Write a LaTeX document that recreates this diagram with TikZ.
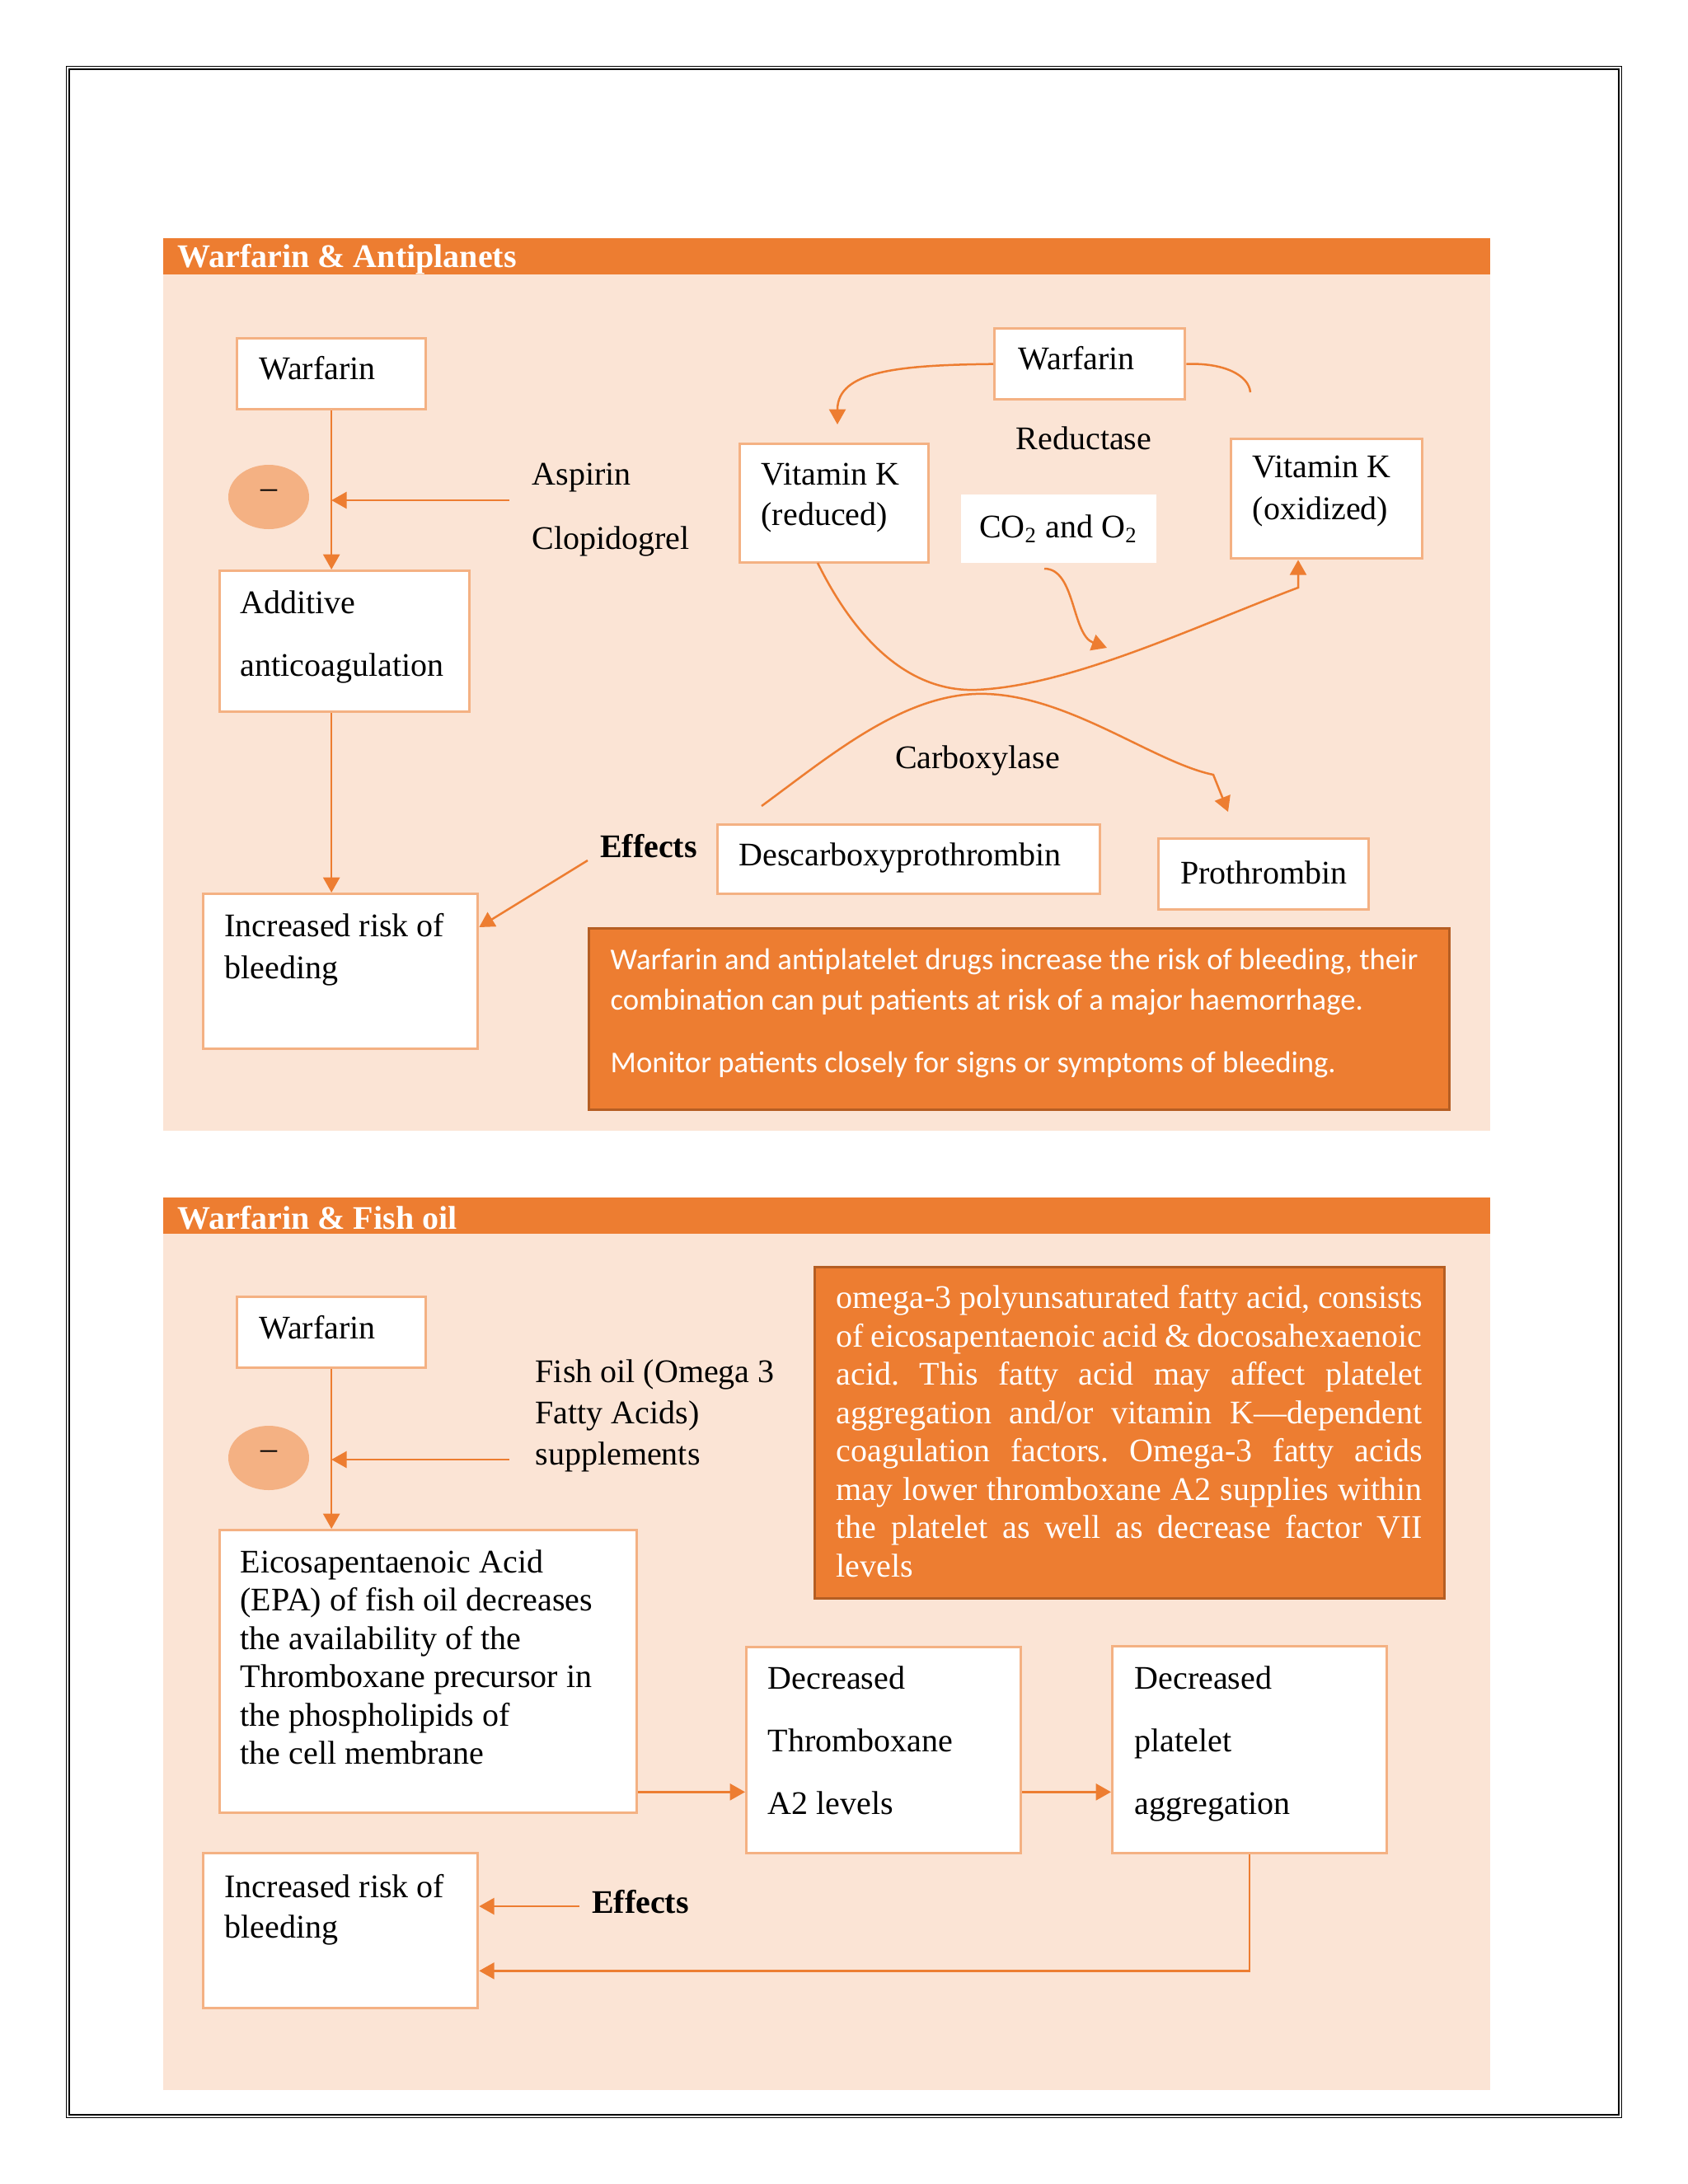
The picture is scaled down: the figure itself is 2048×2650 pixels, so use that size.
\documentclass[tikz,border=0pt]{standalone}
\usepackage{fontspec}
\setmainfont{Liberation Serif}
\newfontfamily\calloutfont{Carlito}
\usepackage{tikz}
\usetikzlibrary{arrows.meta, calc, shapes.geometric}

\definecolor{accent}{HTML}{ED7D31}
\definecolor{peach}{HTML}{FBE4D5}
\definecolor{apricot}{HTML}{F4B183}
\definecolor{rust}{HTML}{B55E23}

\begin{document}
\begin{tikzpicture}[x=0.3pt, y=-0.3pt,
    box/.style 2 args={draw=apricot, line width=1pt, fill=white, anchor=north west,
        inner sep=0pt, minimum width=#1*0.3pt, minimum height=#2*0.3pt,
        font=\fontsize{12}{15}\selectfont},
    note/.style 2 args={box={#1}{#2}, draw=rust, line width=0.75pt, fill=accent},
    txt/.style={anchor=north west, inner sep=0pt, align=left, font=\fontsize{12}{#1}\selectfont},
    txt/.default=15pt,
    lbl/.style={inner sep=0pt, font=\fontsize{12}{15}\selectfont},
    bold/.style={inner sep=0pt, font=\fontsize{12}{15}\selectfont\bfseries},
    title/.style={anchor=west, inner sep=0pt, text=white, font=\fontsize{12}{15}\selectfont\bfseries},
    minus/.style={ellipse, fill=apricot, minimum width=29.4pt, minimum height=23.4pt,
        inner sep=0pt, font=\fontsize{12}{15}\selectfont},
    link/.style={accent, line width=0.75pt},
    arr/.style={link, -{Triangle[length=5.5pt, width=6pt]}}]

    \useasboundingbox (0,0) rectangle (2048,2650);

    % page border
    \draw[line width=0.4pt] (80.5,80.5) rectangle (1967.5,2569.5);
    \draw[line width=0.6pt] (84,84) rectangle (1964,2566);

    % ---------- Warfarin & Antiplanets ----------
    \fill[peach] (198,333) rectangle (1808,1372);
    \fill[accent] (198,289) rectangle (1808,333);
    \node[title] (head1) at (215,315) {Warfarin \& Antiplanets};

    \node[box={229}{86}] (warf1) at (286,409) {};
    \node[txt] (warf1t) at (314,432) {Warfarin};
    \node[minus] (neg1) at (326,603) {\raisebox{2pt}{--}};
    \node[txt] (asp) at (645,561) {Aspirin};
    \node[txt] (clop) at (645,638) {Clopidogrel};
    \node[box={303}{171}] (add1) at (265,691) {};
    \node[txt=22.8pt] (add1t) at (291,716) {Additive\\anticoagulation};
    \node[box={333}{188}] (inc1) at (245,1083) {};
    \node[txt=15.3pt] (inc1t) at (272,1108) {Increased risk of\\bleeding};
    \node[bold] (eff1) at (787,1027) {Effects};

    % vitamin K cycle
    \node[box={231}{86}] (warf2) at (1205,397) {};
    \node[txt] (warf2t) at (1235,420) {Warfarin};
    \node[lbl] (redu) at (1315,532) {Reductase};
    \node[box={229}{144}] (vkred) at (896,537) {};
    \node[txt=14.7pt] (vkredt) at (923,561) {Vitamin K\\(reduced)};
    \node[box={232}{145}] (vkox) at (1492,531) {};
    \node[txt=15.3pt] (vkoxt) at (1519,552) {Vitamin K\\(oxidized)};
    \node[box={237}{83}, draw=none] (co2) at (1164,598) {CO\textsubscript{2} and O\textsubscript{2}};
    \node[lbl] (carb) at (1186,923) {Carboxylase};
    \node[box={464}{84}] (desc) at (869,999) {};
    \node[txt] (desct) at (896,1022) {Descarboxyprothrombin};
    \node[box={255}{86}] (proth) at (1404,1016) {\raisebox{1.5pt}{Prothrombin}};

    \node[note={1044}{220}] (warn) at (713,1125) {};
    \node[txt, text=white, font=\calloutfont\fontsize{11}{14.7}\selectfont] (warnt) at (740,1150)
        {Warfarin and antiplatelet drugs increase the risk of bleeding, their\\
         combination can put patients at risk of a major haemorrhage.\\[8.1pt]
         Monitor patients closely for signs or symptoms of bleeding.};

    \draw[arr] (warf1.south) -- (warf1.south |- add1.north);
    \coordinate (aspin) at (618,607);
    \draw[arr] (aspin) -- (aspin -| warf1.south);
    \draw[arr] (warf1.south |- add1.south) -- (warf1.south |- inc1.north);
    \coordinate (eff1out) at (713,1044);
    \draw[arr] (eff1out) -- ($(inc1.north east)+(0,42)$);

    \coordinate (vkredin) at (1016,515);
    \draw[arr] (warf2.west) .. controls (1090,443) and (1016,450) .. (vkredin);
    \coordinate (vkoxend) at (1517,476);
    \draw[link] (warf2.east) .. controls (1485,440) and (1515,455) .. (vkoxend);
    \coordinate (redout) at (992,683);
    \coordinate (oxin) at (1575,713);
    \draw[arr] (redout) .. controls (1040,780) and (1105,840) .. (1185,837)
        .. controls (1300,832) and (1450,760) .. (oxin) -- (oxin |- vkox.south);
    \coordinate (co2out) at (1267,690);
    \coordinate (co2in) at (1343,786);
    \draw[arr] (co2out) .. controls (1305,690) and (1300,770) .. (co2in);
    \coordinate (descout) at (924,978);
    \coordinate (prothin) at (1490,985);
    \draw[arr] (descout) .. controls (1010,915) and (1100,838) .. (1198,842)
        .. controls (1300,846) and (1400,925) .. (1472,940) -- (prothin);

    % ---------- Warfarin & Fish oil ----------
    \fill[peach] (198,1497) rectangle (1808,2536);
    \fill[accent] (198,1453) rectangle (1808,1497);
    \node[title] (head2) at (215,1478) {Warfarin \& Fish oil};

    \node[box={229}{86}] (warf3) at (286,1572) {};
    \node[txt] (warf3t) at (314,1596) {Warfarin};
    \node[minus] (neg2) at (326,1769) {\raisebox{2pt}{--}};
    \node[txt=15pt] (fish) at (649,1649) {Fish oil (Omega 3\\Fatty Acids)\\supplements};
    \node[box={506}{343}] (epa) at (265,1855) {};
    \node[txt=13.95pt] (epat) at (291,1880) {Eicosapentaenoic Acid\\(EPA) of fish oil decreases\\the availability of the\\Thromboxane precursor in\\the phospholipids of\\the cell membrane};
    \node[box={333}{250}] (thr) at (904,1997) {};
    \node[txt=22.8pt] (thrt) at (931,2021) {Decreased\\Thromboxane\\A2 levels};
    \node[box={333}{251}] (plt) at (1348,1996) {};
    \node[txt=22.8pt] (pltt) at (1376,2021) {Decreased\\platelet\\aggregation};
    \node[box={333}{188}] (inc2) at (245,2247) {};
    \node[txt=14.7pt] (inc2t) at (272,2274) {Increased risk of\\bleeding};
    \node[bold] (eff2) at (777,2308) {Effects};

    \node[note={764}{402}] (omega) at (987,1536) {};
    \node[txt=13.95pt, text=white, text width=213.3pt, align=justify] (omegat) at (1014,1559)
        {\frenchspacing\tolerance=9999 omega-3 polyunsaturated fatty acid, consists\linebreak
         of eicosapentaenoic acid \& docosahexaenoic\linebreak
         acid. This fatty acid may affect platelet\linebreak
         aggregation and/or vitamin K—dependent\linebreak
         coagulation factors. Omega-3 fatty acids\linebreak
         may lower thromboxane A2 supplies within\linebreak
         the platelet as well as decrease factor VII\linebreak
         levels};

    \draw[arr] (warf3.south) -- (warf3.south |- epa.north);
    \coordinate (fishin) at (618,1771);
    \draw[arr] (fishin) -- (fishin -| warf3.south);
    \coordinate (thrin) at ($(thr.south west)+(0,-76)$);
    \draw[arr] (thrin -| epa.east) -- (thrin);
    \coordinate (pltin) at ($(plt.south west)+(0,-76)$);
    \draw[arr] (pltin -| thr.east) -- (pltin);
    \draw[arr] (plt.south) |- ($(inc2.south east)+(0,-47)$);
    \coordinate (eff2out) at (703,2313);
    \draw[arr] (eff2out) -- (eff2out -| inc2.east);
\end{tikzpicture}
\end{document}
